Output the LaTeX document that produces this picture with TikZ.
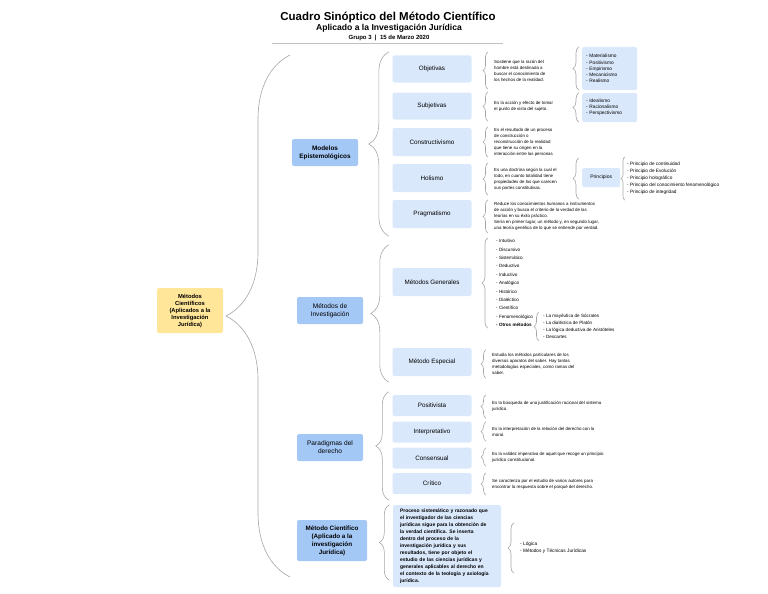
\documentclass[tikz,border=0pt]{standalone}
\usepackage{fontspec}
\setmainfont{Liberation Sans}
\usetikzlibrary{decorations.pathreplacing}
\definecolor{raiz}{HTML}{FFE699}
\definecolor{azul}{HTML}{A4C8F6}
\definecolor{celeste}{HTML}{DAE8FC}
\definecolor{gris}{HTML}{A6A6A6}
\definecolor{raya}{HTML}{BFBFBF}
\tikzset{
 llave/.style={draw=gris,line width=0.6pt,decorate,decoration={brace,amplitude=#1}},
 llave/.default=5pt,
 raizbox/.style={fill=raiz,rounded corners=2pt,align=center,inner sep=1pt,minimum width=66pt,minimum height=45pt,font=\fontsize{5.8}{7}\selectfont\bfseries},
 nivuno/.style={fill=azul,rounded corners=2pt,align=center,inner sep=1pt,minimum width=66pt,minimum height=27pt,font=\fontsize{6.6}{8}\selectfont},
 nivdos/.style={fill=celeste,rounded corners=2pt,align=center,inner sep=1pt,minimum width=79pt,minimum height=27pt,font=\fontsize{6.3}{8}\selectfont},
 desc/.style={anchor=west,align=left,inner sep=0pt,font=\fontsize{4.4}{6}\selectfont},
 lista/.style={fill=celeste,rounded corners=2pt,anchor=west,align=left,text width=47pt,inner xsep=4pt,inner ysep=0pt,font=\fontsize{4.8}{6.2}\selectfont}
}
\begin{document}
\begin{tikzpicture}[x=1pt,y=-1pt]
 \useasboundingbox (0,0) rectangle (768,594);
 \node (titulo) at (388,17) {\fontsize{11.5}{13}\selectfont\bfseries Cuadro Sinóptico del Método Científico};
 \node (subtitulo) at (389,28.5) {\fontsize{8.6}{10}\selectfont\bfseries Aplicado a la Investigación Jurídica};
 \node (grupo) at (389,37.5) {\fontsize{6}{7}\selectfont\bfseries Grupo 3 \ | \ 15 de Marzo 2020};
 \draw[raya,line width=1.2pt] (272,43.5)--(503,43.5);

 \node[raizbox] (raiz) at (190,310.5) {Métodos\\Científicos\\(Aplicados a la\\Investigación\\Jurídica)};
 \coordinate (llavesup) at (290,55);
 \coordinate (llaveinf) at (290,577);
 \draw[llave=64pt] (llaveinf)--(llavesup);

 \node[nivuno,font=\fontsize{6.4}{8}\selectfont\bfseries] (modelos) at (325,152.5) {Modelos\\Epistemológicos};
 \node[nivuno] (metinv) at (330,310.5) {Métodos de\\Investigación};
 \node[nivuno] (paradig) at (330,447.5) {Paradigmas del\\derecho};
 \node[nivuno,minimum width=70pt,minimum height=41pt,font=\fontsize{6.3}{8}\selectfont\bfseries] (metcien) at (332,540.5) {Método Científico\\(Aplicado a la\\investigación\\Jurídica)};

 \node[nivdos] (objetivas) at (432,69) {Objetivas};
 \node[nivdos] (subjetivas) at (432,106) {Subjetivas};
 \node[nivdos,minimum height=28pt] (constr) at (432,142) {Constructivismo};
 \node[nivdos,minimum height=28pt] (holismo) at (432,178) {Holismo};
 \node[nivdos,minimum height=28pt] (pragma) at (432,214) {Pragmatismo};
 \node[nivdos,minimum height=28pt] (metgen) at (432,282) {Métodos Generales};
 \node[nivdos,minimum height=28pt] (metesp) at (432,362) {Método Especial};
 \node[nivdos,minimum height=21pt] (positiv) at (432,405.5) {Positivista};
 \node[nivdos,minimum height=21pt] (interp) at (432,432) {Interpretativo};
 \node[nivdos,minimum height=21pt] (consen) at (432,458) {Consensual};
 \node[nivdos,minimum height=21pt] (critico) at (432,483.5) {Crítico};
 \node[nivdos,minimum height=82pt,text width=94pt,inner xsep=7pt,align=left,font=\fontsize{5}{7}\selectfont\bfseries] (mcdesc) at (447,546) {Proceso sistemático y razonado que\\el investigador de las ciencias\\jurídicas sigue para la obtención de\\la verdad científica. Se inserta\\dentro del proceso de la\\investigación jurídica y sus\\resultados, tiene por objeto el\\estudio de las ciencias jurídicas y\\generales aplicables al derecho en\\el contexto de la teología y axiología\\jurídica.};

 \draw[llave=20pt] ([xshift=-3.5pt,yshift=-8pt]pragma.south west)--([xshift=-3.5pt,yshift=3.5pt]objetivas.north west);
 \draw[llave=18pt] ([xshift=-3.5pt,yshift=-6pt]metesp.south west)--([xshift=-3.5pt,yshift=23pt]metgen.north west);
 \draw[llave=13pt] ([xshift=-3.5pt,yshift=-6pt]critico.south west)--([xshift=-3.5pt,yshift=3pt]positiv.north west);
 \draw[llave=10pt] ([xshift=-3.5pt,yshift=7pt]mcdesc.south west)--([xshift=-3.5pt]mcdesc.north west);

 \node[desc,minimum height=37pt] (dobj) at (494,70.5) {Sostiene que la razón del\\hombre está destinada a\\buscar el conocimiento de\\los hechos de la realidad.};
 \node[desc,minimum height=29pt] (dsubj) at (494,106.5) {Es la acción y efecto de tomar\\el punto de vista del sujeto.};
 \node[desc,minimum height=30pt] (dconstr) at (494,142) {Es el resultado de un proceso\\de construcción o\\reconstrucción de la realidad\\que tiene su origen en la\\interacción entre las personas};
 \node[desc,minimum height=32pt] (dholismo) at (494,179) {Es una doctrina según la cual el\\todo, en cuanto totalidad tiene\\propiedades de las que carecen\\sus partes constitutivas.};
 \node[desc,minimum height=33pt] (dpragma) at (494,216.5) {Reduce los conocimientos humanos a instrumentos\\de acción y busca el criterio de la verdad de las\\teorías en su éxito práctico.\\Sería en primer lugar, un método y, en segundo lugar,\\una teoría genética de lo que se entiende por verdad.};
 \node[desc,minimum height=90pt,font=\fontsize{4.6}{8.4}\selectfont] (lmetgen) at (496,283) {- Intuitivo\\- Discursivo\\- Sistemático\\- Deductivo\\- Inductivo\\- Analógico\\- Histórico\\- Dialéctico\\- Científico\\- Fenomenológico\\\textbf{- Otros métodos}};
 \node[desc,minimum height=28pt,font=\fontsize{4.6}{7}\selectfont] (lotros) at (543,326.5) {- La mayéutica de Sócrates\\- La dialéctica de Platón\\- La lógica deductiva de Aristóteles\\- Descartes};
 \node[desc,minimum height=28pt] (dmetesp) at (492,364) {Estudia los métodos particulares de los\\diversos aparatos del saber. Hay tantas\\metodologías especiales, como ramas del\\saber.};
 \node[desc,minimum height=23pt] (dpositiv) at (492,406.5) {Es la búsqueda de una justificación racional del sistema\\jurídico.};
 \node[desc,minimum height=19pt] (dinterp) at (492,431.5) {Es la interpretación de la relación del derecho con la\\moral.};
 \node[desc,minimum height=18pt] (dconsen) at (492,457) {Es la validez imperativa de aquel que recoge un principio\\jurídico constitucional.};
 \node[desc,minimum height=22pt] (dcritico) at (492,484) {Se caracteriza por el estudio de varios autores para\\encontrar la respuesta sobre el porqué del derecho.};
 \node[desc,minimum height=50pt,font=\fontsize{4.8}{7}\selectfont] (lmc) at (520,548) {- Lógica\\- Métodos y Técnicas Jurídicas};

 \draw[llave] ([xshift=-6pt]dobj.south west)--([xshift=-6pt]dobj.north west);
 \draw[llave] ([xshift=-6pt]dsubj.south west)--([xshift=-6pt]dsubj.north west);
 \draw[llave] ([xshift=-6pt]dconstr.south west)--([xshift=-6pt]dconstr.north west);
 \draw[llave] ([xshift=-6pt]dholismo.south west)--([xshift=-6pt]dholismo.north west);
 \draw[llave] ([xshift=-6pt]dpragma.south west)--([xshift=-6pt]dpragma.north west);
 \draw[llave=6pt] ([xshift=-8pt]lmetgen.south west)--([xshift=-8pt]lmetgen.north west);
 \draw[llave] ([xshift=-4pt]lotros.south west)--([xshift=-4pt]lotros.north west);
 \draw[llave] ([xshift=-6pt]dmetesp.south west)--([xshift=-6pt]dmetesp.north west);
 \draw[llave] ([xshift=-6pt]dpositiv.south west)--([xshift=-6pt]dpositiv.north west);
 \draw[llave] ([xshift=-6pt]dinterp.south west)--([xshift=-6pt]dinterp.north west);
 \draw[llave] ([xshift=-6pt]dconsen.south west)--([xshift=-6pt]dconsen.north west);
 \draw[llave] ([xshift=-6pt]dcritico.south west)--([xshift=-6pt]dcritico.north west);
 \draw[llave=6pt] ([xshift=-6pt]lmc.south west)--([xshift=-6pt]lmc.north west);

 \node[lista,minimum height=43pt] (lobj) at (582,68.5) {- Materialismo\\- Positivismo\\- Empirismo\\- Mecanicismo\\- Realismo};
 \node[lista,minimum height=29pt] (lsubj) at (582,107.5) {- Idealismo\\- Racionalismo\\- Perspectivismo};
 \node[lista,text width=30pt,align=center,minimum height=19pt,font=\fontsize{5}{6}\selectfont] (princ) at (582,177.5) {Principios};
 \node[desc,minimum height=43pt,font=\fontsize{4.7}{7}\selectfont] (lprinc) at (627,178.5) {- Principio de continuidad\\- Principio de Evolución\\- Principio holográfico\\- Principio del conocimiento fenomenológico\\- Principio de integridad};
 \draw[llave=6pt] ([xshift=-3pt]lobj.south west)--([xshift=-3pt]lobj.north west);
 \draw[llave=6pt] ([xshift=-3pt]lsubj.south west)--([xshift=-3pt]lsubj.north west);
 \draw[llave=6pt] ([xshift=-3pt,yshift=-12pt]princ.south west)--([xshift=-3pt,yshift=10pt]princ.north west);
 \draw[llave=4pt] ([xshift=-2pt]lprinc.south west)--([xshift=-2pt]lprinc.north west);
\end{tikzpicture}
\end{document}
